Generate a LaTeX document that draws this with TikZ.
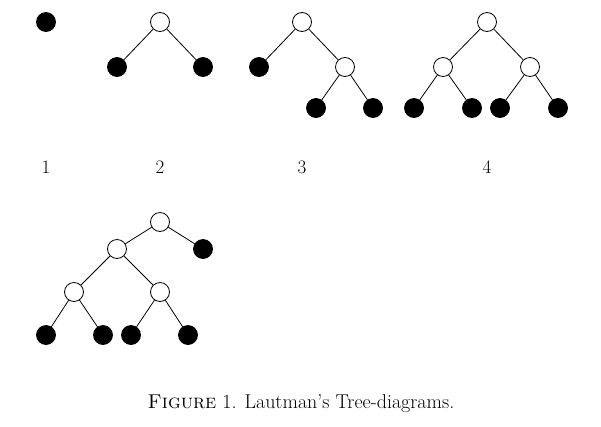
\documentclass[tikz,border=0pt]{standalone}
\begin{document}
\begin{tikzpicture}[x=1pt,y=-1pt,line width=0.8pt,
  bn/.style={circle,fill=black,draw=black,minimum size=19pt,inner sep=0pt},
  wn/.style={circle,fill=white,draw=black,minimum size=19pt,inner sep=0pt},
  lab/.style={font=\fontsize{19}{22}\selectfont}]
\useasboundingbox (0,0) rectangle (601,426);
\node[bn] (a1) at (46,22) {};
% tree 2
\node[wn] (b0) at (160,22) {};
\node[bn] (b1) at (117,67) {};
\node[bn] (b2) at (203,67) {};
\draw (b0)--(b1) (b0)--(b2);
% tree 3
\node[wn] (c0) at (302,22) {};
\node[bn] (c1) at (259,67) {};
\node[wn] (c2) at (345,67) {};
\node[bn] (c3) at (316,108) {};
\node[bn] (c4) at (373,108) {};
\draw (c0)--(c1) (c0)--(c2) (c2)--(c3) (c2)--(c4);
% tree 4
\node[wn] (d0) at (487,22) {};
\node[wn] (d1) at (443,67) {};
\node[wn] (d2) at (530,67) {};
\node[bn] (d3) at (414,108) {};
\node[bn] (d4) at (472,108) {};
\node[bn] (d5) at (500,108) {};
\node[bn] (d6) at (558,108) {};
\draw (d0)--(d1) (d0)--(d2) (d1)--(d3) (d1)--(d4) (d2)--(d5) (d2)--(d6);
% labels
\node[lab] (l1) at (46,167) {1};
\node[lab] (l2) at (160,167) {2};
\node[lab] (l3) at (302,167) {3};
\node[lab] (l4) at (487,167) {4};
% tree 5
\node[wn] (e0) at (160,222) {};
\node[wn] (e1) at (117,249) {};
\node[bn] (e2) at (203,249) {};
\node[wn] (e3) at (74,292) {};
\node[wn] (e4) at (160,292) {};
\node[bn] (e5) at (46,335) {};
\node[bn] (e6) at (103,335) {};
\node[bn] (e7) at (131,335) {};
\node[bn] (e8) at (188,335) {};
\draw (e0)--(e1) (e0)--(e2) (e1)--(e3) (e1)--(e4) (e3)--(e5) (e3)--(e6) (e4)--(e7) (e4)--(e8);
\node[font=\fontsize{20}{24}\selectfont] (cap) at (301,404) {\textsc{Figure} 1. Lautman's Tree-diagrams.};
\end{tikzpicture}
\end{document}
